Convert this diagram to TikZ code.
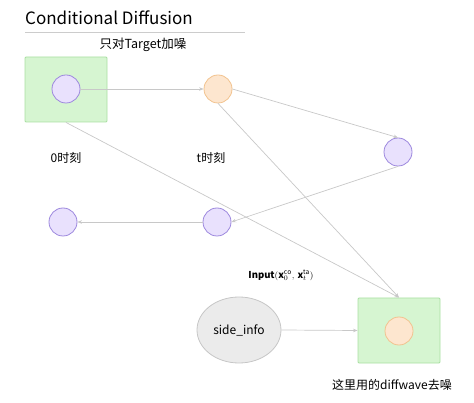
\documentclass[tikz,border=0pt]{standalone}
\usepackage{amsmath}
\usepackage{fontspec}
\setmainfont{Noto Sans CJK SC}
\usetikzlibrary{arrows.meta, positioning, shapes.geometric}
\definecolor{boxgreen}{HTML}{D6F5D1}
\definecolor{boxedge}{HTML}{A9DFA2}
\definecolor{purfill}{HTML}{E9E1FD}
\definecolor{puredge}{HTML}{9D88DE}
\definecolor{orfill}{HTML}{FDE6CF}
\definecolor{oredge}{HTML}{F2C38F}
\definecolor{linegray}{HTML}{C8C8C8}

\begin{document}
\begin{tikzpicture}[x=1pt,y=-1pt,
  stepbox/.style={draw=boxedge,fill=boxgreen,line width=0.9pt,rounded corners=1pt,minimum width=82pt,minimum height=65pt,inner sep=0pt},
  purnode/.style={circle,draw=puredge,fill=purfill,line width=0.8pt,minimum size=28pt,inner sep=0pt},
  ornode/.style={circle,draw=oredge,fill=orfill,line width=0.8pt,minimum size=28pt,inner sep=0pt},
  link/.style={draw=linegray,line width=0.7pt,-{Stealth[length=4.5pt,width=3.5pt]}},
  lbl/.style={font=\fontsize{12}{14}\selectfont,inner sep=0pt}]
\useasboundingbox (0,0) rectangle (474,403);
% title
\node[anchor=west,inner sep=0pt,font=\fontsize{17}{20}\selectfont] (title) at (25,18) {Conditional Diffusion};
\draw[gray!40,line width=0.8pt] (25,32) -- (245,32);
\node[lbl,font=\fontsize{12.5}{14}\selectfont] (note) at (143,45) {只对Target加噪};
% forward (noising)
\node[stepbox] (box0) at (66,89.5) {};
\node[purnode] (x0) at (66,89) {};
\node[ornode] (xt) at (218,89) {};
\node[lbl] (lab0) at (66,158) {0时刻};
\node[lbl] (labt) at (211,158) {t时刻};
\node[purnode] (xm) at (398,152) {};
% lower row
\node[purnode] (xl) at (63,222) {};
\node[purnode] (xr) at (217,222) {};
\node[inner sep=0pt,font=\fontsize{9.5}{11}\selectfont] (inp) at (281,275) {\textbf{Input}$(\mathbf{x}_0^{\mathrm{co}},\,\mathbf{x}_t^{\mathrm{ta}})$};
% denoiser
\node[ellipse,draw=gray!45,fill=gray!16,line width=0.8pt,minimum width=84pt,minimum height=66pt,inner sep=0pt] (side) at (239,330) {};
\node[lbl] (sidetxt) at (side) {side\_info};
\node[stepbox] (box1) at (399,330.5) {};
\node[ornode] (xd) at (399,331) {};
\node[lbl] (labd) at (392,385) {这里用的diffwave去噪};
% connectors
\draw[link] (x0.east) -- (xt.west);
\draw[link] (xt.east) -- (xm.north);
\draw[link] (xm.south) -- (xr.east);
\draw[link] (xr.west) -- (xl.east);
\draw[link] (box0.south) -- (box1.north);
\draw[link] (xt.south) -- (box1.north);
\draw[link] (side.east) -- (box1.west);
\end{tikzpicture}
\end{document}
